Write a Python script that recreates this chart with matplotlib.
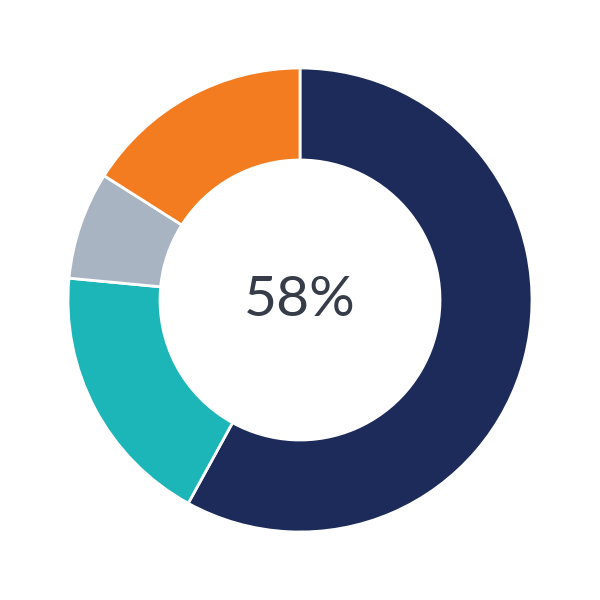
import matplotlib.pyplot as plt

labels = ['A', 'B', 'C', 'D']
values = [58, 18.5, 7.5, 16]
colors = ['#1c2b5a', '#1cb5b8', '#a9b4c2', '#f47c20']
center_label = '58%'

fig = plt.figure(figsize=(6, 6), dpi=100)
ax = fig.add_axes([0, 0, 1, 1])

outer = 1.0
inner = 140 / 232
ax.pie(values, colors=colors, startangle=90, counterclock=False,
       radius=outer,
       wedgeprops=dict(width=outer - inner, edgecolor='white', linewidth=2))

ax.text(0, 0, center_label, ha='center', va='center', fontsize=41,
        family='Lato', color='#363c48')

lim = 300 / 232
ax.set_xlim(-lim, lim)
ax.set_ylim(-lim, lim)
ax.set_aspect('equal')
ax.axis('off')

fig.savefig('out.png', dpi=100, facecolor='white')
